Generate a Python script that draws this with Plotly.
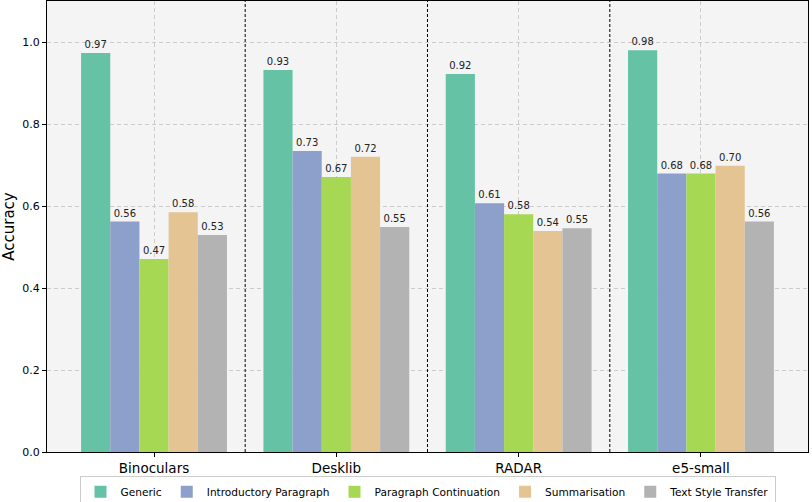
import plotly.graph_objects as go

# detectors on the x axis, one bar per task type
detectors = ['Binoculars', 'Desklib', 'RADAR', 'e5-small']
tasks = ['Generic', 'Introductory Paragraph', 'Paragraph Continuation', 'Summarisation', 'Text Style Transfer']

generic = [0.973, 0.932, 0.922, 0.980]
intro_para = [0.562, 0.734, 0.607, 0.679]
para_cont = [0.471, 0.671, 0.580, 0.679]
summarisation = [0.585, 0.720, 0.539, 0.698]
style_transfer = [0.529, 0.549, 0.546, 0.562]

y_ticks = [0.0, 0.2, 0.4, 0.6, 0.8, 1.0]

series = [generic, intro_para, para_cont, summarisation, style_transfer]
colors = ['#66c2a5', '#8da0cb', '#a6d854', '#e5c494', '#b3b3b3']
font = 'DejaVu Sans'

fig = go.Figure()
for name, vals, col in zip(tasks, series, colors):
    fig.add_trace(go.Bar(x=detectors, y=vals, name=name, marker_color=col, marker_line_width=0,
                         text=[f'{v:.2f}' for v in vals], textposition='outside',
                         textfont=dict(size=10, color='#222222', family=font), cliponaxis=False))

# dashed separators between the detector groups
for i in range(len(detectors) - 1):
    fig.add_shape(type='line', x0=i + 0.5, x1=i + 0.5, y0=0, y1=1, xref='x', yref='paper',
                  line=dict(color='black', width=1, dash='3px,2px'), layer='above')

fig.update_layout(
    width=812, height=502, barmode='group', bargap=0.2, bargroupgap=0,
    margin=dict(l=47, r=4, t=1, b=50, autoexpand=False),
    paper_bgcolor='white', plot_bgcolor='#f4f4f4',
    font=dict(family=font, color='black'),
    legend=dict(orientation='h', x=0.5, xanchor='center', y=-0.054, yanchor='top',
                bgcolor='white', bordercolor='#cccccc', borderwidth=1,
                font=dict(size=10.6, family=font), traceorder='normal'),
)
fig.update_xaxes(range=[-0.587, 3.587], showline=True, linecolor='black', linewidth=1, mirror=True,
                 ticks='outside', ticklen=4, tickcolor='black', tickfont=dict(size=13.5, family=font),
                 showgrid=True, gridcolor='#cccccc', griddash='4px,3px', gridwidth=1, automargin=False)
fig.update_yaxes(range=[0, 1.1], tickvals=y_ticks, ticktext=[f'{t:.1f}' for t in y_ticks],
                 showline=True, linecolor='black', linewidth=1, mirror=True,
                 ticks='outside', ticklen=4, tickcolor='black', tickfont=dict(size=11, family=font),
                 showgrid=True, gridcolor='#cccccc', griddash='4px,3px', gridwidth=1, zeroline=False,
                 automargin=False,
                 title=dict(text='Accuracy', font=dict(size=15, family=font), standoff=4))

# the page body has a default 8px margin, drop it so the figure sits at the corner
fig.write_html('out.html', config={'displayModeBar': False},
               post_script="document.body.style.margin='0';")
